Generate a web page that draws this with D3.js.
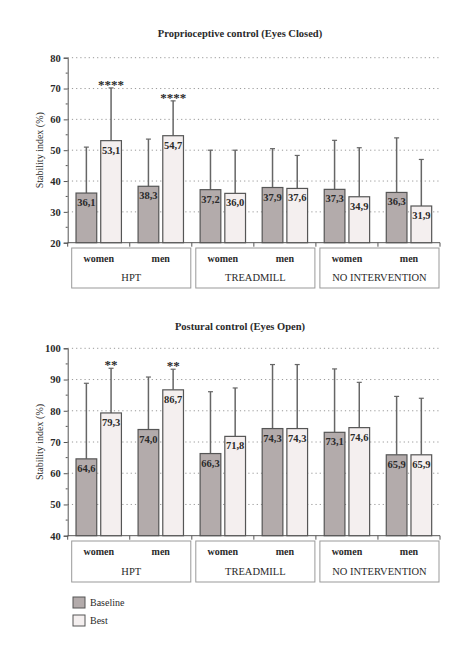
<!DOCTYPE html><html><head><meta charset="utf-8">
<script src="https://cdn.jsdelivr.net/npm/d3@7"></script>
<style>body{margin:0;background:#fff}text{font-family:"Liberation Serif","DejaVu Serif",serif;fill:#2a2a2a}</style>
</head><body><svg id="c" width="474" height="658"></svg>
<script>
const groups=["HPT","TREADMILL","NO INTERVENTION"];
const sexes=["women","men"];
const series=["Baseline","Best"];
const ecBaseline=[36.1,38.3,37.2,37.9,37.3,36.3];
const ecBest=[53.1,54.7,36.0,37.6,34.9,31.9];
const ecBaselineErr=[51.0,53.6,50.0,50.5,53.2,54.0];
const ecBestErr=[70.2,66.0,50.0,48.3,50.8,47.0];
const ecStars=["****","****","","","",""];
const eoBaseline=[64.6,74.0,66.3,74.3,73.1,65.9];
const eoBest=[79.3,86.7,71.8,74.3,74.6,65.9];
const eoBaselineErr=[88.8,90.8,86.1,94.8,93.4,84.6];
const eoBestErr=[93.6,93.3,87.3,94.8,89.1,84.0];
const eoStars=["**","**","","","",""];
const colors=["#b3abab","#f4efef"];
const svg=d3.select("#c");
const X0=67.7,X1=440;
const x=d3.scaleBand().domain(d3.range(6)).range([X0,X1]);
function panel(title,titleY,dom,top,bot,base,best,baseE,bestE,stars,boxTop,boxBot){
  const y=d3.scaleLinear().domain(dom).range([bot,top]);
  svg.append("text").attr("x",240).attr("y",titleY).attr("text-anchor","middle").attr("font-size",10.5).attr("font-weight","bold").text(title);
  const ticks=d3.range(dom[0],dom[1]+1,10);
  svg.append("g").selectAll("line").data(ticks.slice(1)).join("line").attr("x1",X0).attr("x2",X1).attr("y1",d=>y(d)).attr("y2",d=>y(d)).attr("stroke","#999").attr("stroke-dasharray","1.2,3");
  const ax=svg.append("g").attr("transform",`translate(${X0},0)`).call(d3.axisLeft(y).tickValues(ticks).tickSize(4).tickFormat(d3.format("d")));
  ax.select(".domain").attr("stroke","#555");ax.selectAll("line").attr("stroke","#555");
  ax.selectAll("text").attr("font-size",10.5).attr("font-weight","bold").attr("fill","#2a2a2a").style("font-family","Liberation Serif,serif");
  svg.append("g").selectAll("line").data(d3.range(dom[0]+5,dom[1],10)).join("line").attr("x1",X0-2).attr("x2",X0).attr("y1",d=>y(d)).attr("y2",d=>y(d)).attr("stroke","#555");
  svg.append("line").attr("x1",X0).attr("x2",X1).attr("y1",bot).attr("y2",bot).attr("stroke","#555");
  svg.append("g").selectAll("line").data(d3.range(7)).join("line").attr("x1",i=>X0+i*x.bandwidth()).attr("x2",i=>X0+i*x.bandwidth()).attr("y1",bot).attr("y2",bot+4).attr("stroke","#555");
  svg.append("text").attr("transform",`translate(${X0-25},${(top+bot)/2}) rotate(-90)`).attr("text-anchor","middle").attr("font-size",10).text("Stability index (%)");
  const bw=20.7,gap=4;
  [base,best].forEach((vals,s)=>{
    const errs=s?bestE:baseE;
    const g=svg.append("g");
    const cx=i=>x(i)+x.bandwidth()/2+(s?gap/2:-gap/2-bw);
    g.selectAll("line").data(vals).join("line").attr("x1",(d,i)=>cx(i)+bw/2).attr("x2",(d,i)=>cx(i)+bw/2).attr("y1",d=>y(d)).attr("y2",(d,i)=>y(errs[i])).attr("stroke","#666").attr("stroke-width",1.5);
    g.selectAll(".cap").data(vals).join("line").attr("x1",(d,i)=>cx(i)+bw/2-2.5).attr("x2",(d,i)=>cx(i)+bw/2+2.5).attr("y1",(d,i)=>y(errs[i])).attr("y2",(d,i)=>y(errs[i])).attr("stroke","#666").attr("stroke-width",1.2);
    g.selectAll("rect").data(vals).join("rect").attr("x",(d,i)=>cx(i)).attr("width",bw).attr("y",d=>y(d)).attr("height",d=>bot-y(d)).attr("fill",colors[s]).attr("stroke","#555").attr("stroke-width",1.2);
    g.selectAll("text").data(vals).join("text").attr("x",(d,i)=>cx(i)+bw/2).attr("y",d=>y(d)+13).attr("text-anchor","middle").attr("font-size",10.5).attr("font-weight","bold").text(d=>d.toFixed(1).replace(".",","));
    if(s) g.selectAll(".st").data(stars).join("text").attr("x",(d,i)=>cx(i)+bw/2).attr("y",(d,i)=>y(errs[i])+1).attr("text-anchor","middle").attr("font-size",13).attr("font-weight","bold").text(d=>d);
  });
  groups.forEach((gname,gi)=>{
    const l=x(gi*2)+4,r=x(gi*2+1)+x.bandwidth()-1;
    svg.append("rect").attr("x",l).attr("y",boxTop).attr("width",r-l).attr("height",boxBot-boxTop).attr("fill","none").attr("stroke","#999");
    sexes.forEach((sx,k)=>svg.append("text").attr("x",x(gi*2+k)+x.bandwidth()/2).attr("y",boxTop+14).attr("text-anchor","middle").attr("font-size",10).attr("font-weight","bold").text(sx));
    svg.append("text").attr("x",(l+r)/2).attr("y",boxBot-7).attr("text-anchor","middle").attr("font-size",10.5).text(gname);
  });
}
panel("Proprioceptive control (Eyes Closed)",37,[20,80],57.7,242.7,ecBaseline,ecBest,ecBaselineErr,ecBestErr,ecStars,248,288);
panel("Postural control (Eyes Open)",330,[40,100],348.3,535.7,eoBaseline,eoBest,eoBaselineErr,eoBestErr,eoStars,541,582);
series.forEach((s,i)=>{
  svg.append("rect").attr("x",73).attr("y",597+i*18).attr("width",12).attr("height",11).attr("fill",colors[i]).attr("stroke","#555");
  svg.append("text").attr("x",90).attr("y",606+i*18).attr("font-size",10).text(s);
});
</script></body></html>
